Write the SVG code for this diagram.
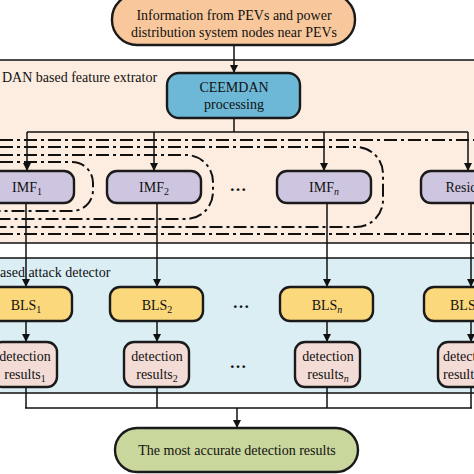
<svg xmlns="http://www.w3.org/2000/svg" width="474" height="474" viewBox="0 0 474 474">
<defs>
<marker id="arr" viewBox="0 0 10 10" refX="10" refY="5" markerWidth="8" markerHeight="8" markerUnits="userSpaceOnUse" orient="auto">
<path d="M0,0 L10,5 L0,10 z" fill="#111"/>
</marker>
<style>
text{font-family:"Liberation Serif","Times New Roman",serif;font-size:14px;fill:#111}
.c{text-anchor:middle}
.sub{font-size:10px}
.box{stroke:#1a1a1a;stroke-width:2.4}
.ln{fill:none;stroke:#111;stroke-width:1.5}
.dd{fill:none;stroke:#111;stroke-width:2;stroke-dasharray:13 4 3 4}
.dots{font-size:17px;font-weight:bold}
</style>
</defs>
<rect width="474" height="474" fill="#fff"/>
<g id="panel-feature">
<rect x="-3" y="60" width="480" height="183" fill="#fdece0" stroke="#111" stroke-width="1.5"/>
<text x="2" y="82">DAN based feature extrator</text>
</g>
<g id="panel-detector">
<rect x="-3" y="258" width="480" height="135" fill="#daeef4" stroke="#111" stroke-width="1.5"/>
<text x="0" y="277">ased attack detector</text>
</g>
<g id="groups">
<path class="dd" d="M0 140 H474"/>
<path class="dd" d="M0 234 H474"/>
<path class="dd" d="M0 147 H356 A27 27 0 0 1 383 174 V200 A27 27 0 0 1 356 227 H0"/>
<path class="dd" d="M0 155 H186 A27 27 0 0 1 213 182 V192 A27 27 0 0 1 186 219 H0"/>
<path class="dd" d="M0 162 H72 A21 21 0 0 1 93 183 V190 A21 21 0 0 1 72 211 H0"/>
</g>
<g id="connectors">
<path class="ln" d="M234 45 V73" marker-end="url(#arr)"/>
<path class="ln" d="M234 118 V132 M27 132 H468"/>
<path class="ln" d="M27 132 V171" marker-end="url(#arr)"/>
<path class="ln" d="M154 132 V171" marker-end="url(#arr)"/>
<path class="ln" d="M324 132 V171" marker-end="url(#arr)"/>
<path class="ln" d="M468 132 V171" marker-end="url(#arr)"/>
<path class="ln" d="M26 203 V287" marker-end="url(#arr)"/>
<path class="ln" d="M157 203 V287" marker-end="url(#arr)"/>
<path class="ln" d="M327 203 V287" marker-end="url(#arr)"/>
<path class="ln" d="M471 203 V287" marker-end="url(#arr)"/>
<path class="ln" d="M26 321 V342" marker-end="url(#arr)"/>
<path class="ln" d="M157 321 V342" marker-end="url(#arr)"/>
<path class="ln" d="M327 321 V342" marker-end="url(#arr)"/>
<path class="ln" d="M471 321 V342" marker-end="url(#arr)"/>
<path class="ln" d="M26 387 V408 M157 387 V408 M327 387 V408 M471 387 V408 M25 408 H472"/>
<path class="ln" d="M237 408 V428" marker-end="url(#arr)"/>
</g>
<g id="input">
<rect class="box" x="112" y="-6" width="243" height="51" rx="25" fill="#f8c89c"/>
<text class="c" x="234" y="20">Information from PEVs and power</text>
<text class="c" x="234" y="37">distribution system nodes near PEVs</text>
</g>
<g id="ceemdan">
<rect class="box" x="167" y="73" width="133" height="45" rx="12" fill="#6cb8d6"/>
<text class="c" x="234" y="92">CEEMDAN</text>
<text class="c" x="234" y="109">processing</text>
</g>
<g id="imf1"><rect class="box" x="-20" y="171" width="94" height="32" rx="10" fill="#cec6e0"/><text class="c" x="27" y="192">IMF<tspan class="sub" dy="3">1</tspan></text></g>
<g id="imf2"><rect class="box" x="107" y="171" width="94" height="32" rx="10" fill="#cec6e0"/><text class="c" x="154" y="192">IMF<tspan class="sub" dy="3">2</tspan></text></g>
<g id="imfn"><rect class="box" x="277" y="171" width="94" height="32" rx="10" fill="#cec6e0"/><text class="c" x="324" y="192">IMF<tspan class="sub" dy="3" font-style="italic">n</tspan></text></g>
<g id="residue"><rect class="box" x="421" y="171" width="94" height="32" rx="10" fill="#cec6e0"/><text class="c" x="468" y="192">Residue</text></g>
<text class="c dots" x="238" y="191">…</text>
<g id="bls1"><rect class="box" x="-21" y="287" width="93" height="34" rx="10" fill="#fcd87c"/><text class="c" x="26" y="310">BLS<tspan class="sub" dy="3">1</tspan></text></g>
<g id="bls2"><rect class="box" x="110" y="287" width="93" height="34" rx="10" fill="#fcd87c"/><text class="c" x="157" y="310">BLS<tspan class="sub" dy="3">2</tspan></text></g>
<g id="blsn"><rect class="box" x="280" y="287" width="93" height="34" rx="10" fill="#fcd87c"/><text class="c" x="327" y="310">BLS<tspan class="sub" dy="3" font-style="italic">n</tspan></text></g>
<g id="bls4"><rect class="box" x="424" y="287" width="93" height="34" rx="10" fill="#fcd87c"/><text x="450" y="310">BLS</text></g>
<text class="c dots" x="241" y="308">…</text>
<g id="det1"><rect class="box" x="-8" y="342" width="65" height="45" rx="10" fill="#f3dbd6"/><text class="c" x="25" y="361">detection</text><text class="c" x="25" y="379">results<tspan class="sub" dy="3">1</tspan></text></g>
<g id="det2"><rect class="box" x="124" y="342" width="65" height="45" rx="10" fill="#f3dbd6"/><text class="c" x="157" y="361">detection</text><text class="c" x="157" y="379">results<tspan class="sub" dy="3">2</tspan></text></g>
<g id="detn"><rect class="box" x="295" y="342" width="65" height="45" rx="10" fill="#f3dbd6"/><text class="c" x="328" y="361">detection</text><text class="c" x="328" y="379">results<tspan class="sub" dy="3" font-style="italic">n</tspan></text></g>
<g id="det4"><rect class="box" x="438" y="342" width="65" height="45" rx="10" fill="#f3dbd6"/><text x="443" y="361">detection</text><text x="443" y="379">results</text></g>
<text class="c dots" x="238" y="368">…</text>
<g id="output">
<rect class="box" x="115" y="428" width="243" height="44" rx="22" fill="#c9d69c"/>
<text class="c" x="237" y="455">The most accurate detection results</text>
</g>
</svg>
